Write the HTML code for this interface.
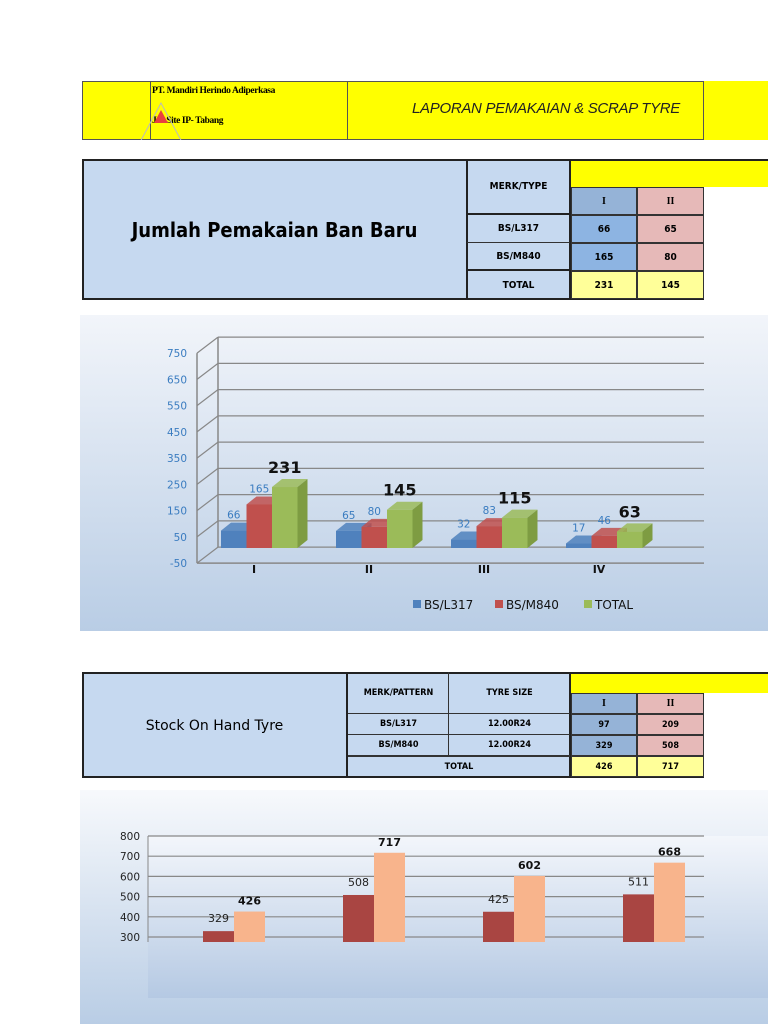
<!DOCTYPE html>
<html style="overflow:hidden;width:768px;height:1024px"><head><meta charset="utf-8">
<style>
html,body{margin:0;padding:0}
body{width:768px;height:1024px;background:#fff;position:relative;overflow:hidden;font-family:"Liberation Sans","DejaVu Sans",sans-serif}
.a{position:absolute;box-sizing:border-box}
.c{position:absolute;box-sizing:border-box;display:flex;align-items:center;justify-content:center;font-weight:bold;font-size:10px;color:#000;font-family:"DejaVu Sans Condensed","DejaVu Sans","Liberation Sans",sans-serif}
</style></head><body>
<!-- header -->
<div class="a" style="left:82px;top:81px;width:686px;height:59px;background:#ffff00"></div>
<div class="a" style="left:82px;top:81px;width:622px;height:59px;border:1.5px solid #555"></div>
<div class="a" style="left:150px;top:81px;width:1px;height:59px;background:#555"></div>
<div class="a" style="left:347px;top:81px;width:1px;height:59px;background:#555"></div>
<div class="a" style="left:152px;top:86px;font-family:'Liberation Serif',serif;font-weight:bold;font-size:9.5px;letter-spacing:-0.4px">PT. Mandiri Herindo Adiperkasa</div>
<div class="a" style="left:152px;top:116px;font-family:'Liberation Serif',serif;font-weight:bold;font-size:9.5px;letter-spacing:-0.4px">J&nbsp;&nbsp;&nbsp;&nbsp;&nbsp;Site IP- Tabang</div>
<svg class="a" style="left:136px;top:100px;overflow:hidden" width="50" height="40"><polygon points="25,3 3,44 47,44" fill="none" stroke="#bbb" stroke-width="1"/><polygon points="25,10 18,23 32,23" fill="#e84040"/></svg>
<div class="a" style="left:412px;top:100px;font-style:italic;font-size:15px;color:#222;letter-spacing:-0.3px">LAPORAN PEMAKAIAN &amp; SCRAP TYRE</div>

<!-- table 1 -->
<div class="a" style="left:82px;top:159px;width:622px;height:141px;background:#c6d9f0;border:2px solid #222"></div>
<div class="a" style="left:570px;top:159px;width:198px;height:28px;background:#ffff00;border-top:2px solid #222"></div>
<div class="c" style="left:82px;top:160px;width:385px;height:140px;font-size:20px">Jumlah Pemakaian Ban Baru</div>
<div class="a" style="left:466px;top:159px;width:2px;height:141px;background:#222"></div>
<div class="a" style="left:569px;top:159px;width:2px;height:141px;background:#222"></div>
<div class="c" style="left:467px;top:160px;width:103px;height:55px;border-bottom:2px solid #222">MERK/TYPE</div>
<div class="c" style="left:571px;top:187px;width:66px;height:28px;background:#95b3d7;border:1px solid #333;font-family:'Liberation Serif',serif">I</div>
<div class="c" style="left:637px;top:187px;width:67px;height:28px;background:#e6b9b8;border:1px solid #333;font-family:'Liberation Serif',serif">II</div>
<div class="c" style="left:467px;top:215px;width:103px;height:28px;border-bottom:1px solid #333">BS/L317</div>
<div class="c" style="left:571px;top:215px;width:66px;height:28px;background:#8db4e2;border:1px solid #333">66</div>
<div class="c" style="left:637px;top:215px;width:67px;height:28px;background:#e6b9b8;border:1px solid #333">65</div>
<div class="c" style="left:467px;top:243px;width:103px;height:28px;border-bottom:2px solid #222">BS/M840</div>
<div class="c" style="left:571px;top:243px;width:66px;height:28px;background:#8db4e2;border:1px solid #333">165</div>
<div class="c" style="left:637px;top:243px;width:67px;height:28px;background:#e6b9b8;border:1px solid #333">80</div>
<div class="c" style="left:467px;top:271px;width:103px;height:28px">TOTAL</div>
<div class="c" style="left:571px;top:271px;width:66px;height:28px;background:#ffff99;border:1px solid #333">231</div>
<div class="c" style="left:637px;top:271px;width:67px;height:28px;background:#ffff99;border:1px solid #333">145</div>

<!-- chart 1 -->
<svg class="a" id="c1" style="left:80px;top:315px" width="688" height="316">
<defs><linearGradient id="g1" x1="0" y1="0" x2="0" y2="1"><stop offset="0" stop-color="#f2f5fa"/><stop offset="1" stop-color="#b9cde5"/></linearGradient></defs>
<rect width="688" height="316" fill="url(#g1)"/>
</svg>

<!-- table 2 -->
<div class="a" style="left:82px;top:672px;width:622px;height:106px;background:#c6d9f0;border:2px solid #222"></div>
<div class="a" style="left:570px;top:672px;width:198px;height:21px;background:#ffff00;border-top:2px solid #222"></div>
<div class="c" style="left:82px;top:673px;width:265px;height:105px;font-size:14px;font-weight:normal;font-family:'DejaVu Sans',sans-serif">Stock On Hand Tyre</div>
<div class="a" style="left:346px;top:672px;width:2px;height:106px;background:#222"></div>
<div class="a" style="left:569px;top:672px;width:2px;height:106px;background:#222"></div>
<div class="a" style="left:448px;top:672px;width:1px;height:84px;background:#333"></div>
<div class="c" style="left:348px;top:673px;width:101px;height:41px;border-bottom:1px solid #333;font-size:9px">MERK/PATTERN</div>
<div class="c" style="left:449px;top:673px;width:121px;height:41px;border-bottom:1px solid #333;font-size:9px">TYRE SIZE</div>
<div class="c" style="left:571px;top:693px;width:66px;height:21px;background:#95b3d7;border:1px solid #333;font-family:'Liberation Serif',serif">I</div>
<div class="c" style="left:637px;top:693px;width:67px;height:21px;background:#e6b9b8;border:1px solid #333;font-family:'Liberation Serif',serif">II</div>
<div class="c" style="left:348px;top:714px;width:101px;height:21px;border-bottom:1px solid #333;font-size:9px">BS/L317</div>
<div class="c" style="left:449px;top:714px;width:121px;height:21px;border-bottom:1px solid #333;font-size:9px">12.00R24</div>
<div class="c" style="left:571px;top:714px;width:66px;height:21px;background:#95b3d7;border:1px solid #333;font-size:9px">97</div>
<div class="c" style="left:637px;top:714px;width:67px;height:21px;background:#e6b9b8;border:1px solid #333;font-size:9px">209</div>
<div class="c" style="left:348px;top:735px;width:101px;height:21px;border-bottom:1px solid #333;font-size:9px">BS/M840</div>
<div class="c" style="left:449px;top:735px;width:121px;height:21px;border-bottom:1px solid #333;font-size:9px">12.00R24</div>
<div class="c" style="left:571px;top:735px;width:66px;height:21px;background:#95b3d7;border:1px solid #333;font-size:9px">329</div>
<div class="c" style="left:637px;top:735px;width:67px;height:21px;background:#e6b9b8;border:1px solid #333;font-size:9px">508</div>
<div class="c" style="left:348px;top:756px;width:222px;height:21px;border-top:1px solid #333;font-size:9px">TOTAL</div>
<div class="c" style="left:571px;top:756px;width:66px;height:21px;background:#ffff99;border:1px solid #333;font-size:9px">426</div>
<div class="c" style="left:637px;top:756px;width:67px;height:21px;background:#ffff99;border:1px solid #333;font-size:9px">717</div>

<!-- chart 2 -->
<svg class="a" id="c2" style="left:80px;top:790px" width="688" height="234">
<defs><linearGradient id="g2" x1="0" y1="0" x2="0" y2="1"><stop offset="0" stop-color="#f7f9fc"/><stop offset="1" stop-color="#b9cde5"/></linearGradient>
<linearGradient id="g3" x1="0" y1="0" x2="0" y2="1"><stop offset="0" stop-color="#f3f6fb"/><stop offset="1" stop-color="#b5c9e3"/></linearGradient>
<clipPath id="cp2"><rect x="0" y="0" width="688" height="152"/></clipPath></defs>
<rect width="688" height="234" fill="url(#g2)"/>
<rect x="68" y="46" width="620" height="162" fill="url(#g3)"/>
</svg>

<script>
// chart 1 data
const cats1 = ['I','II','III','IV'];
const bsl = [66,65,32,17];
const bsm = [165,80,83,46];
const tot = [231,145,115,63];
const ticks1 = [-50,50,150,250,350,450,550,650,750];
// chart 2 data
const red2 = [329,508,425,511];
const org2 = [426,717,602,668];
const ticks2 = [300,400,500,600,700,800];

const NS='http://www.w3.org/2000/svg';
function mk(p,t,a){const e=document.createElementNS(NS,t);for(const k in a)e.setAttribute(k,a[k]);p.appendChild(e);return e;}

// ---- chart 1 (coords relative to svg at 80,315)
(function(){
const s=document.getElementById('c1');
const fx=117, dx=21, dy=-16;
const y=v=>235-(v)*0.2625;
const right=624;
ticks1.forEach(t=>{
  const yy=y(t);
  const g=mk(s,'line',{x1:fx+dx,y1:yy+dy,x2:right,y2:yy+dy,stroke:'#888','stroke-width':1.2});
  
  
  mk(s,'line',{x1:fx,y1:yy,x2:fx+dx,y2:yy+dy,stroke:'#888','stroke-width':1.2});
  const tx=mk(s,'text',{x:fx-10,y:yy+4,'text-anchor':'end','font-size':10.5,fill:'#3a7cc0','font-family':'DejaVu Sans, sans-serif'});
  tx.textContent=t;
  
  
});
mk(s,'line',{x1:fx,y1:y(-50),x2:fx,y2:y(750),stroke:'#888','stroke-width':1.5});
mk(s,'line',{x1:fx+dx,y1:y(-50)+dy,x2:fx+dx,y2:y(750)+dy,stroke:'#888','stroke-width':1.5});
mk(s,'line',{x1:fx,y1:y(-50),x2:right,y2:y(-50),stroke:'#888','stroke-width':1.5});
const gw=115, bw=25.5, x0=141;
const series=[[bsl,'#4f81bd','#3a6aa6'],[bsm,'#c0504d','#a03c39'],[tot,'#9bbb59','#7e9c42']];
const zero=233, sc=0.264, bd=10, bdy=-8;
cats1.forEach((c,i)=>{
  const gx=x0+i*gw;
  series.forEach((sr,j)=>{
    const v=sr[0][i], bx=gx+j*bw, top=zero-v*sc;
    const f=mk(s,'rect',{x:bx,y:top,width:bw,height:zero-top,fill:sr[1]});
    
    
    mk(s,'polygon',{points:`${bx},${top} ${bx+bd},${top+bdy} ${bx+bw+bd},${top+bdy} ${bx+bw},${top}`,fill:sr[1],opacity:0.85});
    mk(s,'polygon',{points:`${bx+bw},${top} ${bx+bw+bd},${top+bdy} ${bx+bw+bd},${zero+bdy} ${bx+bw},${zero}`,fill:sr[2]});
    const lt=mk(s,'text',{x:bx+bw/2+(j==2?0:0),y:j==2?top-14:top-12,'text-anchor':'middle','font-size':j==2?16:10.5,'font-weight':j==2?'bold':'normal',fill:j==2?'#111':'#3a7cc0','font-family':'DejaVu Sans, sans-serif'});
    lt.textContent=v;
    
    
  });
  const cl=mk(s,'text',{x:gx+33,y:258,'text-anchor':'middle','font-size':11,'font-weight':'bold',fill:'#111','font-family':'DejaVu Sans, sans-serif'});
  cl.textContent=c;
  
  
});
const leg=[['BS/L317','#4f81bd',333],['BS/M840','#c0504d',415],['TOTAL','#9bbb59',504]];
leg.forEach(l=>{
  const r=mk(s,'rect',{x:l[2],y:285,width:8,height:8,fill:l[1]});
  
  
  const t=mk(s,'text',{x:l[2]+11,y:294,'font-size':12,fill:'#111','font-family':'DejaVu Sans, sans-serif'});
  t.textContent=l[0];
  
  
});
})();

// ---- chart 2 (svg at 80,790)
(function(){
const s=document.getElementById('c2');
const y=v=>46+(800-v)*0.202;
ticks2.forEach(t=>{
  const g=mk(s,'line',{x1:68,y1:y(t),x2:624,y2:y(t),stroke:'#888','stroke-width':1.2});
  
  
  const tx=mk(s,'text',{x:60,y:y(t)+4,'text-anchor':'end','font-size':10.5,fill:'#222','font-family':'DejaVu Sans, sans-serif'});
  tx.textContent=t;
  
  
});
mk(s,'line',{x1:68,y1:y(800),x2:68,y2:152,stroke:'#888','stroke-width':1});
const g=mk(s,'g',{'clip-path':'url(#cp2)'});
red2.forEach((v,i)=>{
  const gx=123+i*140, bw=31;
  const r=mk(g,'rect',{x:gx,y:y(v),width:bw,height:200,fill:'#a94542'});
  
  
  const o=mk(g,'rect',{x:gx+bw,y:y(org2[i]),width:bw,height:200,fill:'#f8b48c'});
  
  
  const t1=mk(s,'text',{x:gx+bw/2,y:y(v)-9,'text-anchor':'middle','font-size':11,fill:'#222','font-family':'DejaVu Sans, sans-serif'});
  t1.textContent=v;
  
  
  const t2=mk(s,'text',{x:gx+bw*1.5,y:y(org2[i])-7,'text-anchor':'middle','font-size':11,'font-weight':'bold',fill:'#111','font-family':'DejaVu Sans, sans-serif'});
  t2.textContent=org2[i];
  
  
});
})();
</script>
</body></html>
